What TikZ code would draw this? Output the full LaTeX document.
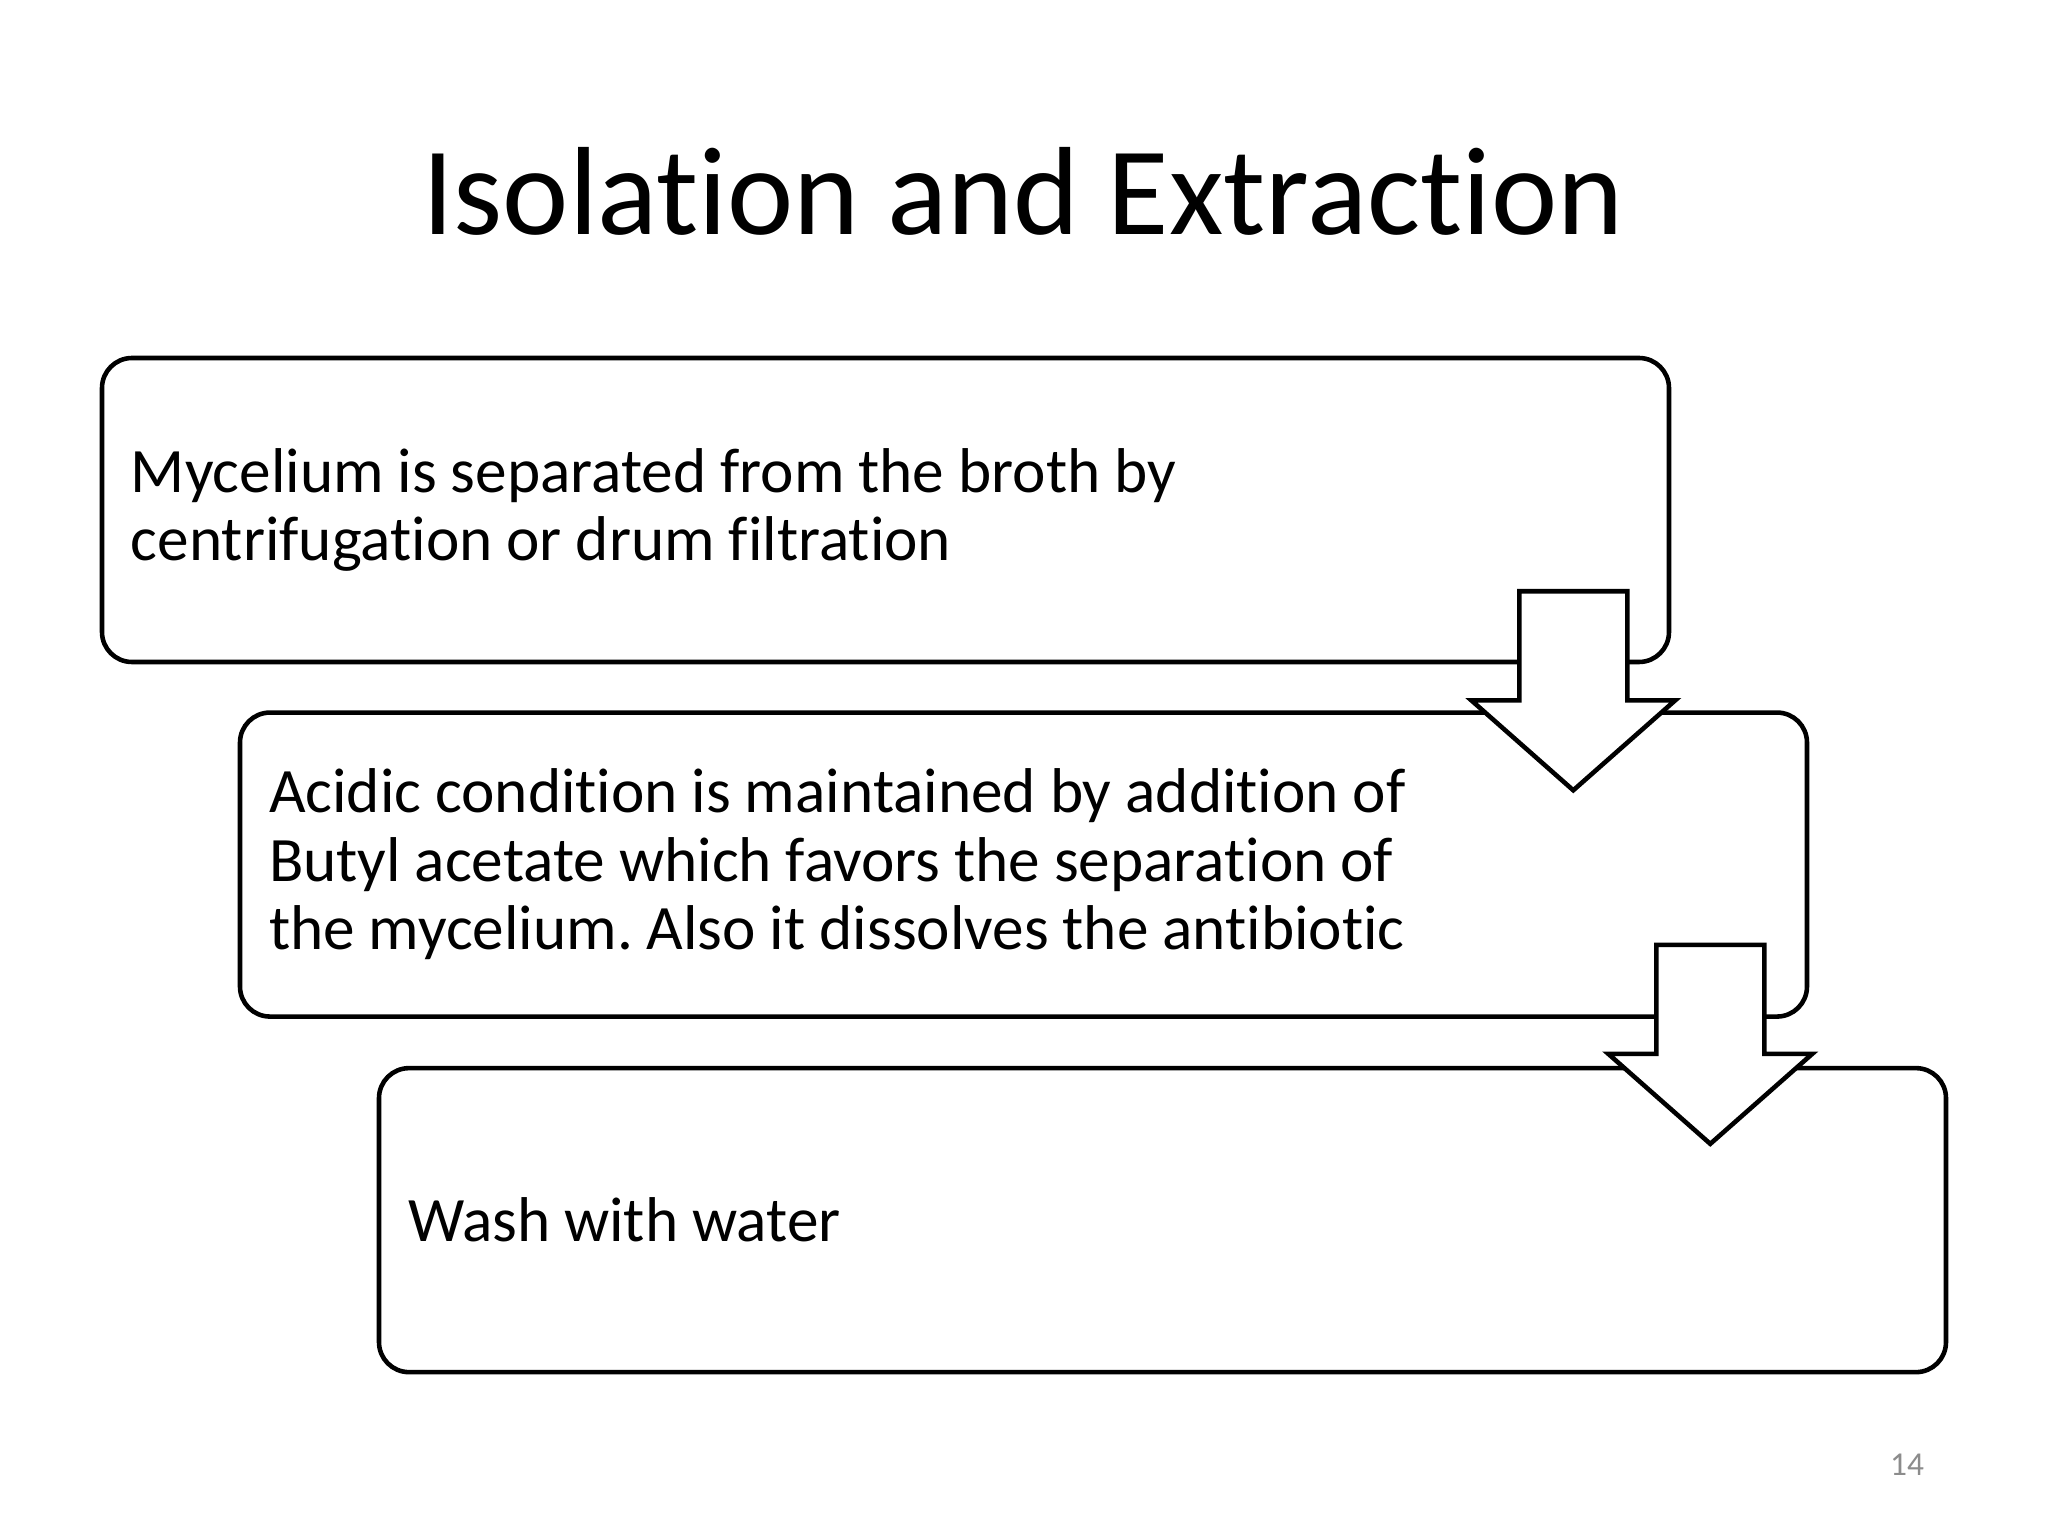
\documentclass[tikz,border=0pt]{standalone}
\usepackage{fontspec}
\setmainfont{Carlito}[Ligatures=NoCommon]
\usetikzlibrary{positioning, calc}

\begin{document}
\frenchspacing
\begin{tikzpicture}[
        font=\fontsize{18pt}{19.5pt}\selectfont,
        box/.style={draw, line width=1.3pt, rounded corners=0.3cm, fill=white, align=left, text width=15.09cm, minimum height=3.04cm, inner xsep=0.29cm, inner ysep=2pt, execute at begin node={\spaceskip=0.22em\relax}},
        flow/.style={draw, line width=1.3pt, fill=white, line join=miter},
        pics/downflow/.style={code={
            \draw[flow] (-0.54,0) -- (0.54,0) -- (0.54,-1.09) -- (1.02,-1.09) -- (0,-1.99) -- (-1.02,-1.09) -- (-0.54,-1.09) -- cycle;
        }}
    ]
        \path[use as bounding box, fill=white] (0,0) rectangle (20.48,-15.36);

        % --- Title ---
        \node[anchor=base, font=\fontsize{35.7pt}{42pt}\selectfont] (title) at (10.23,-2.35) {Isolation and Extraction};

        % --- Steps ---
        \node[box] (step1) at (8.855,-5.10) {Mycelium is separated from the broth by\\centrifugation or drum filtration};
        \node[box, below right=0.46cm and 1.38cm of step1.south west] (step2) {Acidic condition is maintained by addition of\\Butyl acetate which favors the separation of\\the mycelium. Also it dissolves the antibiotic};
        \node[box, below right=0.47cm and 1.39cm of step2.south west] (step3) {Wash with water};

        % --- Block arrows ---
        \path ($(step1.south east)+(-0.98,0.73)$) pic {downflow};
        \path ($(step2.south east)+(-0.99,0.74)$) pic {downflow};

        \node[text=black!45, font=\fontsize{9.5pt}{11pt}\selectfont] (pagenum) at (19.07,-14.65) {14};
    \end{tikzpicture}
\end{document}
